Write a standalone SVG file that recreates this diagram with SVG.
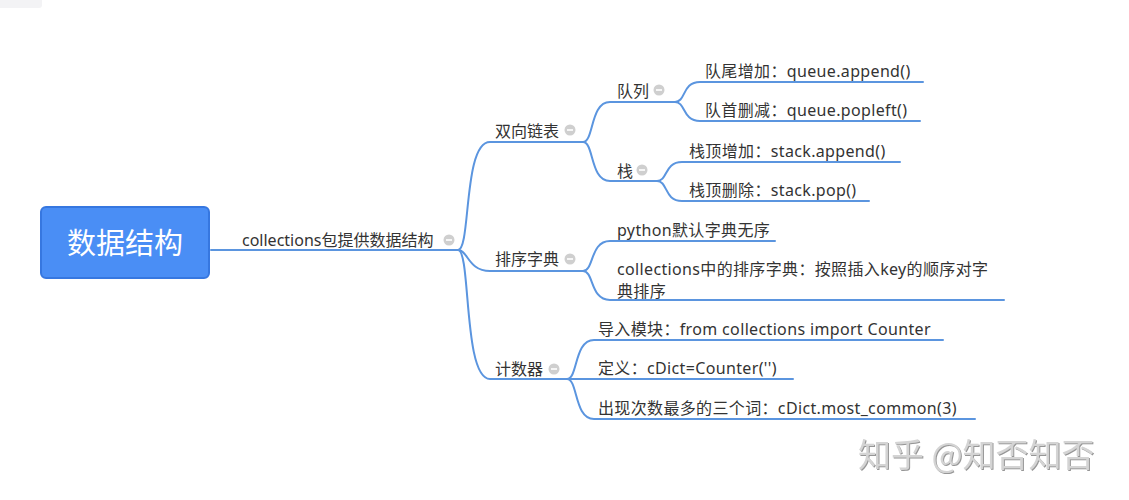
<svg xmlns="http://www.w3.org/2000/svg" width="1129" height="500" viewBox="0 0 1129 500">
<defs>
<style>
.t{font-family:"Noto Sans","Noto Sans CJK SC",sans-serif;font-size:16px;fill:#333}
.l{letter-spacing:0.35px}
.c{fill:none;stroke:#5b95df;stroke-width:2;stroke-linecap:round}
.dot{fill:#cfcfcf}
.minus{stroke:#fff;stroke-width:1.6}
</style>
<filter id="emb" x="-5%" y="-20%" width="110%" height="140%">
<feDropShadow dx="1" dy="1" stdDeviation="0.6" flood-color="#8a8a8a" flood-opacity="0.9"/>
</filter>
<g id="tog"><circle class="dot" r="5.5"/><line class="minus" x1="-3" y1="0" x2="3" y2="0"/></g>
</defs>
<rect width="1129" height="500" fill="#fff"/>
<rect x="-4" y="-6" width="46" height="14" rx="3" fill="#f3f3f5"/>

<g id="connectors">
<path class="c" d="M211,250 L458,250"/>
<path class="c" d="M458,250 C471,250 463,142 490,142 L583,142"/>
<path class="c" d="M458,250 C468,250 468,271 490,271 L583,271"/>
<path class="c" d="M458,250 C471,250 463,379 490,379 L567,379"/>
<path class="c" d="M583,142 C594,142 590,102 610,102 L675,102"/>
<path class="c" d="M583,142 C594,142 590,181 610,181 L657,181"/>
<path class="c" d="M675,102 C686,102 682,82 700,82 L923,82"/>
<path class="c" d="M675,102 C686,102 682,121 700,121 L920,121"/>
<path class="c" d="M657,181 C668,181 664,162 682,162 L900,162"/>
<path class="c" d="M657,181 C668,181 664,201 682,201 L869,201"/>
<path class="c" d="M583,271 C594,271 590,241 610,241 L775,241"/>
<path class="c" d="M583,271 C594,271 590,300 610,300 L1004,300"/>
<path class="c" d="M567,379 C578,379 574,340 594,340 L943,340"/>
<path class="c" d="M567,379 L793,379"/>
<path class="c" d="M567,379 C578,379 574,419 594,419 L975,419"/>
</g>

<g id="root">
<rect x="41" y="207" width="168" height="71" rx="5" fill="#4a8ef5" stroke="#3677e0" stroke-width="2"/>
<text x="125" y="254" text-anchor="middle" style="font-family:'Noto Sans CJK SC',sans-serif;font-size:29px;fill:#fff">数据结构</text>
</g>

<g id="n-collections">
<text class="t" x="242" y="246">collections包提供数据结构</text>
<use href="#tog" x="449" y="240"/>
</g>

<g id="n-deque">
<text class="t" x="495" y="137">双向链表</text>
<use href="#tog" x="570" y="130"/>
</g>
<g id="n-queue">
<text class="t" x="617" y="97">队列</text>
<use href="#tog" x="659" y="90"/>
</g>
<g id="n-queue-append">
<text class="t l" x="705" y="77">队尾增加：queue.append()</text>
</g>
<g id="n-queue-popleft">
<text class="t l" x="705" y="116">队首删减：queue.popleft()</text>
</g>
<g id="n-stack">
<text class="t" x="617" y="177">栈</text>
<use href="#tog" x="642" y="170"/>
</g>
<g id="n-stack-append">
<text class="t l" x="689" y="157">栈顶增加：stack.append()</text>
</g>
<g id="n-stack-pop">
<text class="t l" x="689" y="196">栈顶删除：stack.pop()</text>
</g>

<g id="n-ordered">
<text class="t" x="495" y="265">排序字典</text>
<use href="#tog" x="570" y="259"/>
</g>
<g id="n-py-dict">
<text class="t l" x="617" y="236">python默认字典无序</text>
</g>
<g id="n-ordereddict">
<text class="t l" x="617" y="275">collections中的排序字典：按照插入key的顺序对字<tspan x="617" y="297">典排序</tspan></text>
</g>

<g id="n-counter">
<text class="t" x="495" y="375">计数器</text>
<use href="#tog" x="554" y="369"/>
</g>
<g id="n-import">
<text class="t l" x="598" y="335">导入模块：from collections import Counter</text>
</g>
<g id="n-define">
<text class="t l" x="598" y="374">定义：cDict=Counter('')</text>
</g>
<g id="n-most">
<text class="t l" x="598" y="414">出现次数最多的三个词：cDict.most_common(3)</text>
</g>

<text x="858" y="467" filter="url(#emb)" style="font-family:'Noto Sans CJK SC',sans-serif;font-size:33px;fill:#d4d4d4">知乎 @知否知否</text>
</svg>
